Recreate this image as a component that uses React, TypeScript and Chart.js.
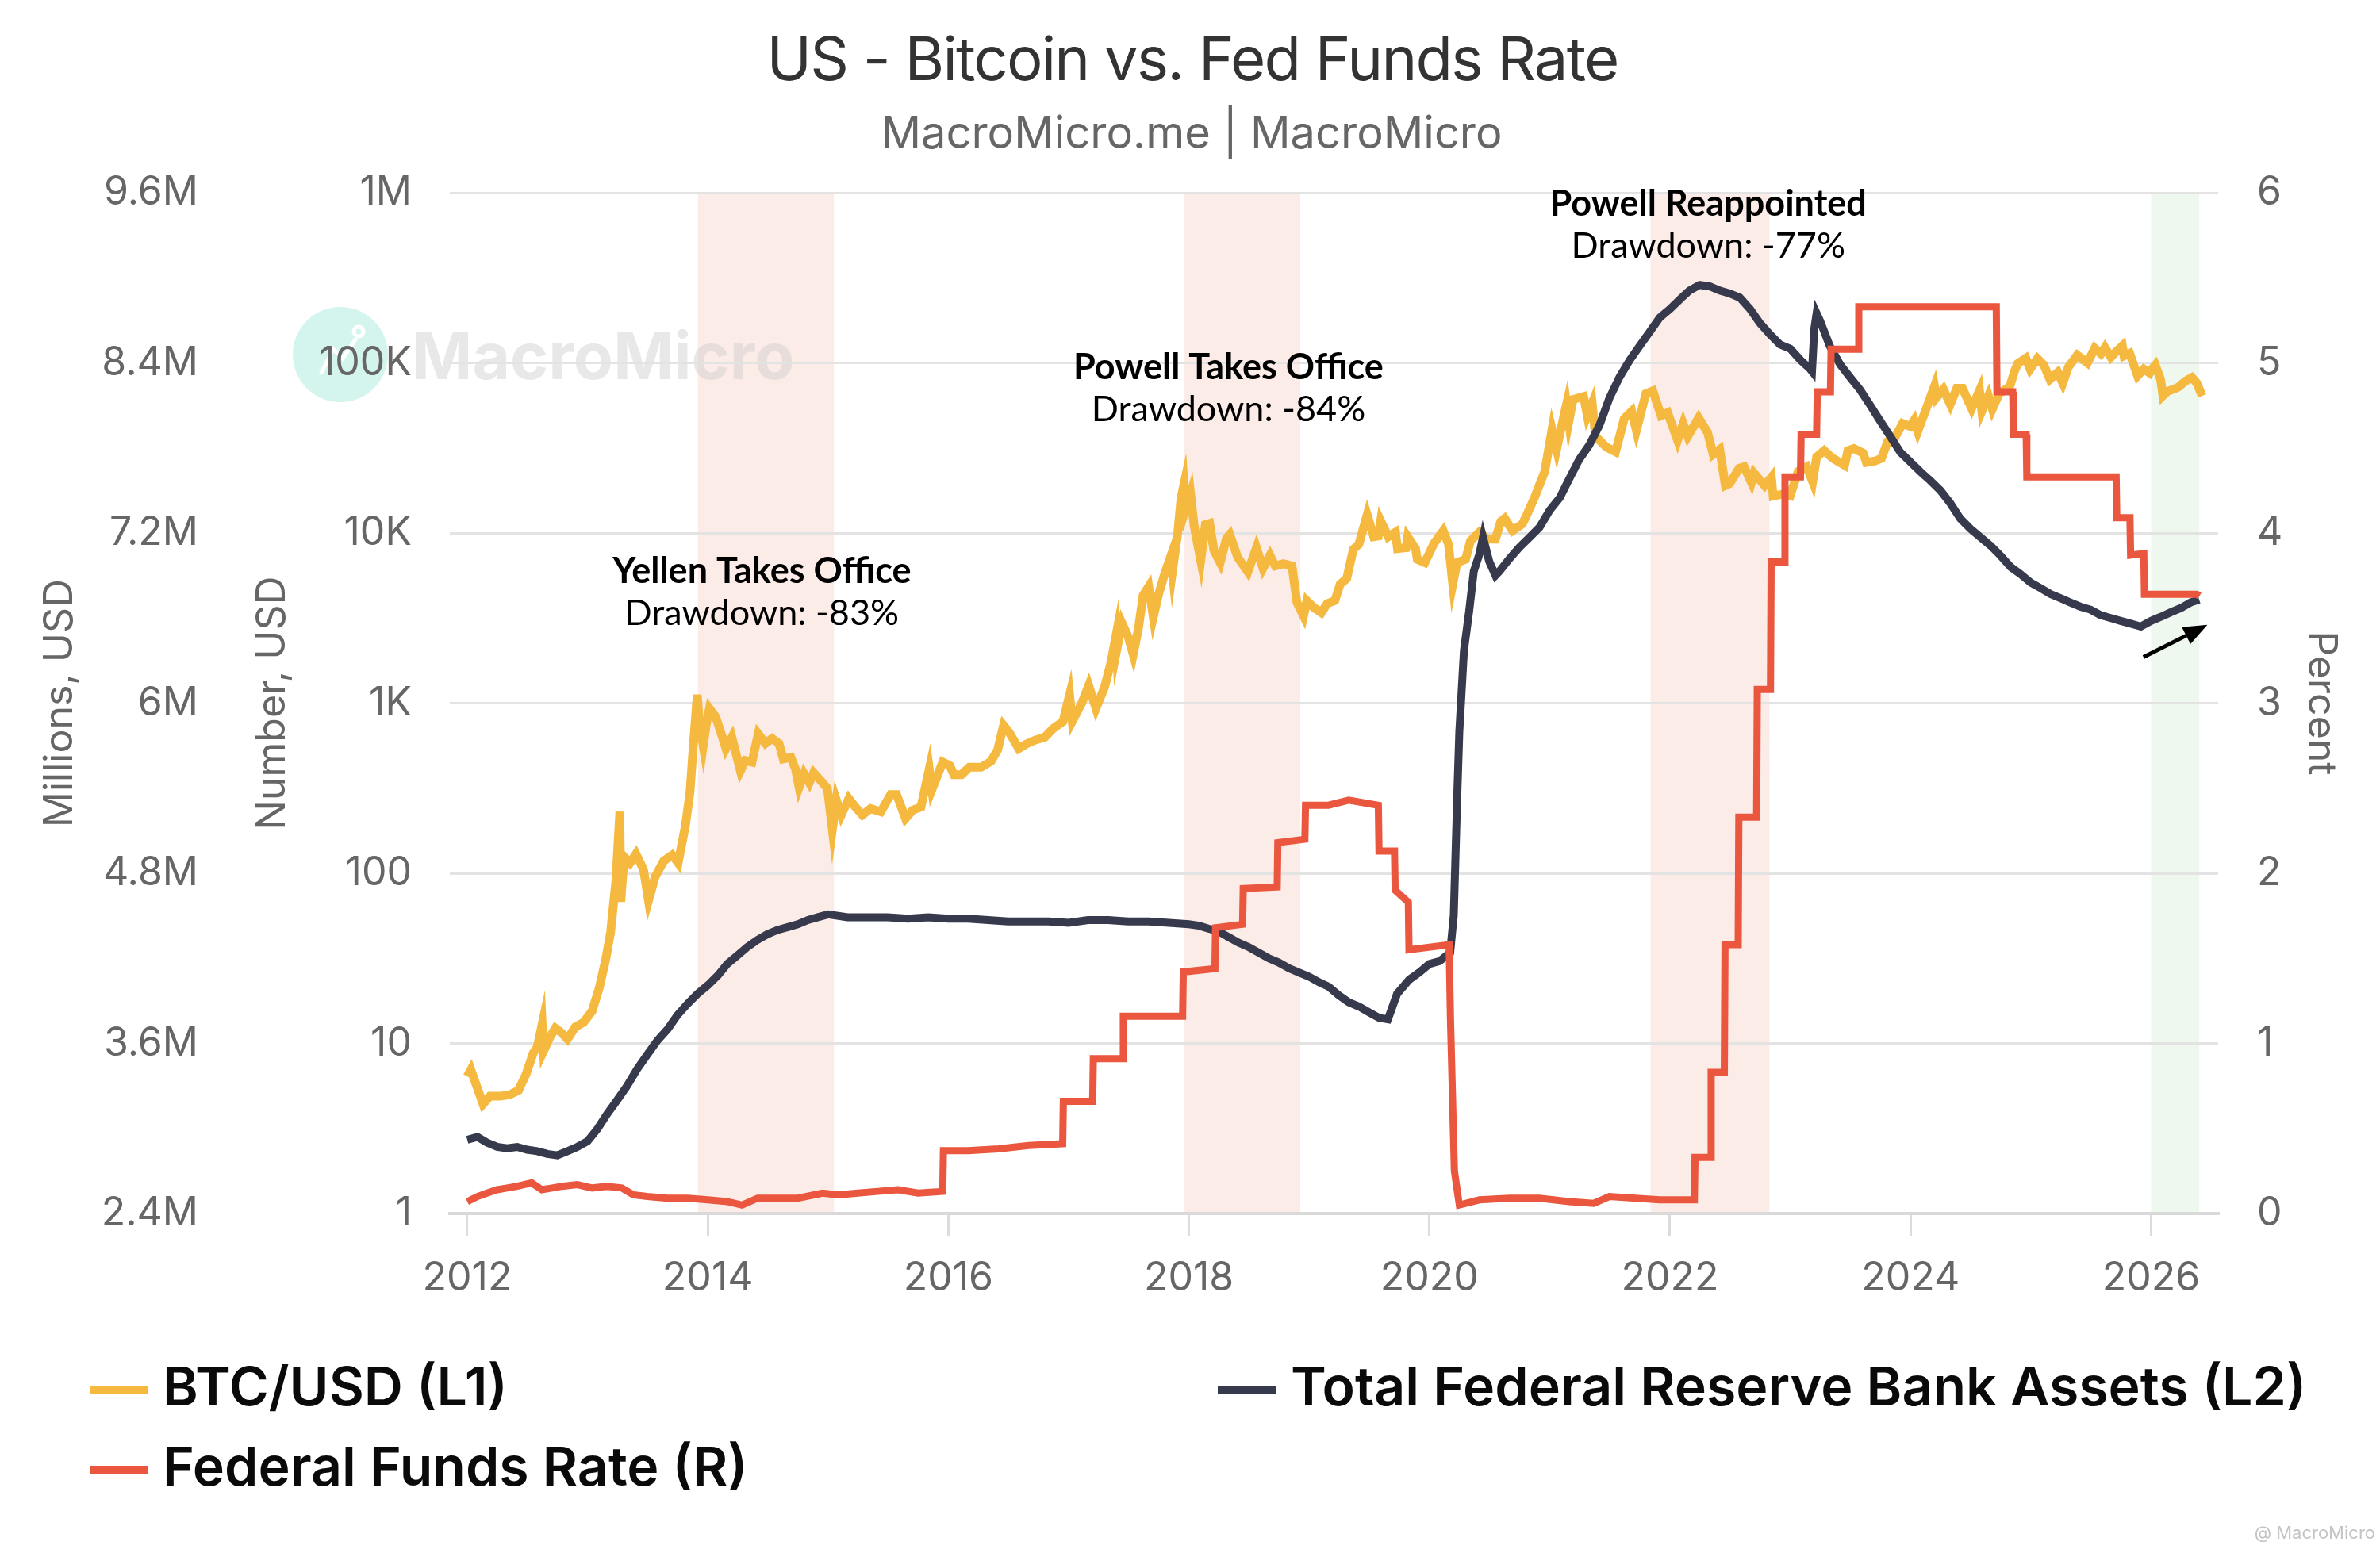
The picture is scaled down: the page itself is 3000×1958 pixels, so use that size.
import React, { useEffect, useRef } from 'react';
import { Chart, registerables } from 'chart.js';

Chart.register(...registerables);

// ---------- text ----------
const TITLE = 'US - Bitcoin vs. Fed Funds Rate';
const SUBTITLE = 'MacroMicro.me | MacroMicro';
const CREDIT = '@ MacroMicro';
const WATERMARK = 'MacroMicro';

// ---------- axes ----------
const X_MIN = 2011.855;
const X_MAX = 2026.558;
const YEAR_TICKS = [2012, 2014, 2016, 2018, 2020, 2022, 2024, 2026];
const BTC_TICKS = [1, 10, 100, 1000, 10000, 100000, 1000000];
const BTC_TICK_LABELS = ['1', '10', '100', '1K', '10K', '100K', '1M'];
const ASSET_TICKS = [2.4, 3.6, 4.8, 6, 7.2, 8.4, 9.6];
const RATE_TICKS = [0, 1, 2, 3, 4, 5, 6];

// ---------- series: BTC/USD (L1) ----------
const BTC_DATES = [
  '2012-01-01','2012-01-12','2012-02-18','2012-03-10','2012-04-12','2012-05-10','2012-06-05','2012-06-28','2012-07-20','2012-08-01','2012-08-16','2012-08-20','2012-09-10','2012-09-25','2012-10-15','2012-11-01','2012-11-25','2012-12-20',
  '2013-01-15','2013-02-05','2013-02-25','2013-03-12','2013-03-28','2013-04-09','2013-04-12','2013-04-22','2013-05-10','2013-05-28','2013-06-20','2013-07-05','2013-07-25','2013-08-20','2013-09-15','2013-10-03','2013-10-25','2013-11-08','2013-11-18','2013-11-30','2013-12-07','2013-12-18','2013-12-27',
  '2014-01-06','2014-01-25','2014-02-12','2014-02-25','2014-03-15','2014-04-10','2014-04-25','2014-05-15','2014-06-03','2014-06-25','2014-07-15','2014-08-05','2014-08-18','2014-09-10','2014-09-24','2014-10-05','2014-10-20','2014-11-05','2014-11-18','2014-12-10','2014-12-30',
  '2015-01-14','2015-01-26','2015-02-10','2015-03-05','2015-03-25','2015-04-15','2015-05-10','2015-06-10','2015-07-10','2015-07-28','2015-08-24','2015-09-15','2015-10-10','2015-11-04','2015-11-12','2015-12-15',
  '2016-01-05','2016-01-18','2016-02-10','2016-03-05','2016-04-10','2016-05-10','2016-05-30','2016-06-17','2016-07-05','2016-08-02','2016-08-25','2016-09-20','2016-10-20','2016-11-15','2016-12-15',
  '2017-01-04','2017-01-12','2017-02-10','2017-03-03','2017-03-25','2017-04-20','2017-05-10','2017-05-25','2017-05-27','2017-06-12','2017-07-01','2017-07-16','2017-08-01','2017-08-15','2017-09-01','2017-09-15','2017-10-01','2017-10-20','2017-11-07','2017-11-12','2017-11-28','2017-12-08','2017-12-17','2017-12-22',
  '2018-01-06','2018-01-17','2018-02-06','2018-02-20','2018-03-05','2018-03-18','2018-04-06','2018-04-25','2018-05-05','2018-05-29','2018-06-29','2018-07-25','2018-08-14','2018-09-04','2018-09-20','2018-10-15','2018-11-10','2018-11-25','2018-12-15','2018-12-25',
  '2019-01-15','2019-02-07','2019-02-25','2019-03-20','2019-04-05','2019-04-25','2019-05-15','2019-06-01','2019-06-26','2019-07-16','2019-07-30','2019-08-06','2019-08-29','2019-09-20','2019-09-26','2019-10-22','2019-10-27','2019-11-20','2019-11-25','2019-12-18',
  '2020-01-15','2020-02-12','2020-02-28','2020-03-12','2020-03-25','2020-04-20','2020-05-05','2020-06-01','2020-06-25','2020-07-20','2020-08-05','2020-08-17','2020-09-10','2020-10-10','2020-10-25','2020-11-15','2020-12-01','2020-12-17',
  '2021-01-08','2021-01-22','2021-02-10','2021-02-21','2021-02-28','2021-03-13','2021-04-14','2021-04-25','2021-05-10','2021-05-20','2021-06-22','2021-07-20','2021-08-15','2021-09-07','2021-09-21','2021-10-20','2021-11-10','2021-12-05','2021-12-25',
  '2022-01-24','2022-02-10','2022-02-24','2022-03-29','2022-04-25','2022-05-12','2022-06-01','2022-06-18','2022-07-01','2022-07-30','2022-08-14','2022-09-05','2022-09-13','2022-10-15','2022-11-05','2022-11-10','2022-12-15',
  '2023-01-01','2023-01-25','2023-02-20','2023-03-10','2023-03-22','2023-04-14','2023-05-10','2023-06-15','2023-06-25','2023-07-13','2023-08-10','2023-08-20','2023-09-15','2023-10-05','2023-10-24','2023-11-15','2023-12-08','2023-12-31',
  '2024-01-12','2024-01-23','2024-02-15','2024-03-14','2024-03-20','2024-04-10','2024-05-01','2024-05-21','2024-06-07','2024-07-05','2024-07-29','2024-08-05','2024-08-25','2024-09-06','2024-09-27','2024-10-29','2024-11-13','2024-11-22','2024-12-17','2024-12-30',
  '2025-01-21','2025-02-10','2025-02-28','2025-03-24','2025-04-08','2025-04-25','2025-05-22','2025-06-22','2025-07-14','2025-08-02','2025-08-14','2025-09-01','2025-09-18','2025-10-06','2025-10-11','2025-10-28','2025-11-21','2025-12-10','2025-12-28',
  '2026-01-06','2026-01-14','2026-01-30','2026-02-06','2026-02-20','2026-03-10','2026-03-25','2026-04-15','2026-05-05','2026-05-20','2026-06-05',
];
const BTC_PRICES = [
  6.4,7.0,4.4,4.9,4.9,5.0,5.3,6.6,8.8,9.5,13.0,9.0,11.0,12.3,11.5,10.6,12.5,13.3,
  15.5,21,31,45,90,230,68,125,115,130,105,69,95,118,128,115,190,300,560,1120,750,560,740,
  930,830,650,540,630,400,460,450,660,580,620,580,470,480,410,320,385,340,390,350,315,
  180,270,220,275,245,220,240,230,290,290,210,235,245,410,310,450,
  430,380,380,420,420,455,530,740,670,540,575,605,630,710,780,
  1120,780,1000,1270,930,1240,1750,2500,2050,2950,2450,1930,2750,4300,4850,3200,4350,5800,7300,5900,9900,16000,19300,13800,
  17100,11000,6900,11200,11400,7900,6700,9300,9800,7200,5900,8200,6200,7400,6400,6600,6400,3900,3250,4000,
  3650,3400,3850,4000,5000,5400,8000,8600,12800,9500,9600,11800,9500,10100,8100,8200,9500,8100,7000,6700,
  8700,10300,8600,5000,6700,7000,9000,10100,9200,9200,11700,12200,10300,11300,13000,16000,19200,23000,
  40500,31000,46000,57000,45000,61000,63500,49000,58000,37000,32000,30000,47000,52000,40000,66000,68500,49000,51000,
  35000,44000,37000,47500,39000,29000,31000,19000,19500,24000,24500,19800,22500,19000,21300,16500,17000,
  16600,23000,24500,20000,28000,30500,27500,25000,30500,31400,29500,26000,26500,27500,34500,36500,44000,42300,
  46000,39500,52000,73000,62500,70000,57000,71000,71000,54000,69000,52000,64000,53500,66000,72500,90000,99000,106500,92000,
  106000,97000,80000,88000,76000,94500,111000,100000,122000,113000,123000,108000,117000,126000,110000,114000,84000,92000,87000,
  93000,97000,80000,64000,68000,70000,72000,78000,82000,76000,64000,
];

// ---------- series: Total Federal Reserve Bank Assets (L2), millions of millions USD ----------
const ASSET_DATES = [
  '2012-01-01','2012-02-01','2012-03-01','2012-04-01','2012-05-01','2012-06-01','2012-07-01','2012-08-01','2012-09-01','2012-10-01','2012-11-01','2012-12-01',
  '2013-01-01','2013-02-01','2013-03-01','2013-04-01','2013-05-01','2013-06-01','2013-07-01','2013-08-01','2013-09-01','2013-10-01','2013-11-01','2013-12-01',
  '2014-01-01','2014-02-01','2014-03-01','2014-04-01','2014-05-01','2014-06-01','2014-07-01','2014-08-01','2014-09-01','2014-10-01','2014-11-01','2014-12-01',
  '2015-01-01','2015-03-01','2015-05-01','2015-07-01','2015-09-01','2015-11-01',
  '2016-01-01','2016-03-01','2016-05-01','2016-07-01','2016-09-01','2016-11-01',
  '2017-01-01','2017-03-01','2017-05-01','2017-07-01','2017-09-01','2017-11-01',
  '2018-01-01','2018-02-01','2018-03-01','2018-04-01','2018-05-01','2018-06-01','2018-07-01','2018-08-01','2018-09-01','2018-10-01','2018-11-01','2018-12-01',
  '2019-01-01','2019-02-01','2019-03-01','2019-04-01','2019-05-01','2019-06-01','2019-07-01','2019-08-01','2019-08-28','2019-09-25','2019-11-01','2019-12-01',
  '2020-01-01','2020-02-01','2020-03-04','2020-03-15','2020-03-25','2020-04-01','2020-04-15','2020-05-01','2020-05-15','2020-06-01','2020-06-12','2020-07-01','2020-07-20','2020-08-01','2020-09-01','2020-10-01','2020-11-01','2020-12-01',
  '2021-01-01','2021-02-01','2021-03-01','2021-04-01','2021-05-01','2021-06-01','2021-07-01','2021-08-01','2021-09-01','2021-10-01','2021-11-01','2021-12-01',
  '2022-01-01','2022-02-01','2022-03-01','2022-04-01','2022-05-01','2022-06-01','2022-07-01','2022-08-01','2022-09-01','2022-10-01','2022-11-01','2022-12-01',
  '2023-01-01','2023-02-01','2023-03-01','2023-03-08','2023-03-15','2023-03-22','2023-04-01','2023-05-01','2023-06-01','2023-07-01','2023-08-01','2023-09-01','2023-10-01','2023-11-01','2023-12-01',
  '2024-01-01','2024-02-01','2024-03-01','2024-04-01','2024-05-01','2024-06-01','2024-07-01','2024-08-01','2024-09-01','2024-10-01','2024-11-01','2024-12-01',
  '2025-01-01','2025-02-01','2025-03-01','2025-04-01','2025-05-01','2025-06-01','2025-07-01','2025-08-01','2025-09-01','2025-10-01','2025-11-01','2025-12-01',
  '2026-01-01','2026-02-01','2026-03-01','2026-04-01','2026-05-01','2026-05-27',
];
const ASSET_VALUES = [
  2.92,2.94,2.90,2.87,2.86,2.87,2.85,2.84,2.82,2.81,2.84,2.87,
  2.91,3.00,3.10,3.20,3.30,3.42,3.52,3.62,3.70,3.80,3.88,3.95,
  4.01,4.08,4.16,4.22,4.28,4.33,4.37,4.40,4.42,4.44,4.47,4.49,
  4.51,4.49,4.49,4.49,4.48,4.49,
  4.48,4.48,4.47,4.46,4.46,4.46,
  4.45,4.47,4.47,4.46,4.46,4.45,
  4.44,4.43,4.41,4.39,4.35,4.31,4.28,4.24,4.20,4.17,4.13,4.10,
  4.07,4.03,4.00,3.94,3.89,3.86,3.82,3.78,3.77,3.95,4.05,4.10,
  4.16,4.18,4.24,4.50,5.30,5.80,6.37,6.65,6.93,7.05,7.17,7.00,6.90,6.93,7.02,7.10,7.17,7.24,
  7.36,7.45,7.58,7.72,7.82,7.96,8.15,8.30,8.42,8.52,8.62,8.72,
  8.78,8.85,8.91,8.95,8.94,8.91,8.89,8.86,8.78,8.68,8.60,8.53,
  8.50,8.42,8.36,8.34,8.64,8.75,8.70,8.52,8.39,8.30,8.21,8.10,7.99,7.88,7.77,
  7.70,7.63,7.57,7.50,7.41,7.30,7.23,7.17,7.11,7.04,6.96,6.91,
  6.85,6.81,6.77,6.74,6.71,6.68,6.66,6.62,6.60,6.58,6.56,6.54,
  6.58,6.61,6.64,6.67,6.71,6.73,
];

// ---------- series: Federal Funds Rate (R), percent ----------
const FFR_DATES = [
  '2012-01-01','2012-02-01','2012-03-01','2012-04-01','2012-05-01','2012-06-01','2012-07-15','2012-08-15','2012-09-15','2012-10-15','2012-12-01',
  '2013-01-15','2013-03-01','2013-04-15','2013-05-20','2013-07-01','2013-09-01','2013-11-01',
  '2014-01-01','2014-03-01','2014-04-15','2014-06-01','2014-08-01','2014-10-01','2014-12-15',
  '2015-02-01','2015-04-01','2015-06-01','2015-08-01','2015-10-01','2015-12-15','2015-12-17',
  '2016-03-01','2016-06-01','2016-09-01','2016-12-14','2016-12-16',
  '2017-03-15','2017-03-17','2017-06-14','2017-06-16','2017-12-13','2017-12-15',
  '2018-03-21','2018-03-23','2018-06-13','2018-06-15','2018-09-26','2018-09-28','2018-12-19','2018-12-21',
  '2019-03-01','2019-05-01','2019-07-30','2019-08-01','2019-09-17','2019-09-19','2019-10-29','2019-10-31',
  '2020-03-01','2020-03-05','2020-03-17','2020-04-01','2020-06-01','2020-09-01','2020-12-01',
  '2021-03-01','2021-05-15','2021-07-01','2021-12-01',
  '2022-03-16','2022-03-18','2022-05-04','2022-05-06','2022-06-15','2022-06-17','2022-07-27','2022-07-29','2022-09-21','2022-09-23','2022-11-02','2022-11-04','2022-12-14','2022-12-16',
  '2023-02-01','2023-02-03','2023-03-22','2023-03-24','2023-05-03','2023-05-05','2023-07-26','2023-07-28',
  '2024-09-18','2024-09-20','2024-11-07','2024-11-09','2024-12-18','2024-12-20',
  '2025-09-17','2025-09-19','2025-10-29','2025-10-31','2025-12-10','2025-12-12',
  '2026-05-20','2026-05-28',
];
const FFR_VALUES = [
  0.07,0.10,0.12,0.14,0.15,0.16,0.18,0.14,0.15,0.16,0.17,
  0.15,0.16,0.15,0.11,0.10,0.09,0.09,
  0.08,0.07,0.05,0.09,0.09,0.09,0.12,
  0.11,0.12,0.13,0.14,0.12,0.13,0.37,
  0.37,0.38,0.40,0.41,0.66,
  0.66,0.91,0.91,1.16,1.16,1.42,
  1.44,1.68,1.70,1.91,1.92,2.18,2.20,2.40,
  2.40,2.43,2.40,2.13,2.13,1.90,1.83,1.55,
  1.58,1.15,0.25,0.05,0.08,0.09,0.09,
  0.07,0.06,0.10,0.08,
  0.08,0.33,0.33,0.83,0.83,1.58,1.58,2.33,2.33,3.08,3.08,3.83,3.83,4.33,
  4.33,4.58,4.58,4.83,4.83,5.08,5.08,5.33,
  5.33,4.83,4.83,4.58,4.58,4.33,
  4.33,4.09,4.09,3.87,3.88,3.64,
  3.64,3.63,
];

// ---------- highlight periods ----------
const BAND_STARTS = ['2013-12-02', '2017-12-17', '2021-11-03', '2026-01-01'];
const BAND_ENDS = ['2015-01-19', '2018-12-05', '2022-10-30', '2026-05-27'];
const BAND_KINDS = ['red', 'red', 'red', 'green'];

// ---------- annotations (anchored on the BTC axis) ----------
const NOTE_TITLES = ['Yellen Takes Office', 'Powell Takes Office', 'Powell Reappointed'];
const NOTE_SUBS = ['Drawdown: -83%', 'Drawdown: -84%', 'Drawdown: -77%'];
const NOTE_DATES = ['2014-06-14', '2018-05-01', '2022-04-27'];
const NOTE_BTC = [5100, 80000, 732000];

// arrow (on the percent axis)
const ARROW_DATES = ['2025-12-09', '2026-06-21'];
const ARROW_RATES = [3.27, 3.46];

// ---------- colors ----------
const C_BTC = '#F5B940';
const C_ASSETS = '#363A4C';
const C_FFR = '#EA573E';
const AXIS_TEXT = '#666666';
const FONT = 'Inter, "Noto Sans", sans-serif';
const NOTE_FONT = 'Lato, "Noto Sans", sans-serif';

const toYear = (d: string): number => {
  const [y, m, day] = d.split('-').map(Number);
  const s = Date.UTC(y, 0, 1);
  const e = Date.UTC(y + 1, 0, 1);
  return y + (Date.UTC(y, m - 1, day) - s) / (e - s);
};

const pts = (dates: string[], vals: number[]) => dates.map((d, i) => ({ x: toYear(d), y: vals[i] }));

const decorPlugin = {
  id: 'decor',
  beforeDraw(chart: any) {
    const { ctx, chartArea: a, scales } = chart;
    ctx.save();
    // shaded periods
    BAND_STARTS.forEach((s, i) => {
      const x0 = scales.x.getPixelForValue(toYear(s));
      const x1 = scales.x.getPixelForValue(toYear(BAND_ENDS[i]));
      ctx.fillStyle = BAND_KINDS[i] === 'red' ? 'rgba(240,140,120,0.17)' : 'rgba(150,210,150,0.16)';
      ctx.fillRect(x0, a.top, x1 - x0, a.bottom - a.top);
    });
    // watermark
    ctx.fillStyle = '#D4F5EE';
    ctx.beginPath();
    ctx.arc(429, 447, 60, 0, Math.PI * 2);
    ctx.fill();
    ctx.strokeStyle = '#ffffff';
    ctx.lineWidth = 5;
    ctx.lineCap = 'round';
    ctx.beginPath();
    ctx.moveTo(405, 470);
    ctx.lineTo(420, 440);
    ctx.lineTo(432, 452);
    ctx.lineTo(448, 428);
    ctx.stroke();
    ctx.beginPath();
    ctx.arc(452, 418, 6, 0, Math.PI * 2);
    ctx.stroke();
    ctx.fillStyle = 'rgba(205,205,205,0.45)';
    ctx.font = `700 82px ${FONT}`;
    ctx.textAlign = 'left';
    ctx.textBaseline = 'alphabetic';
    ctx.fillText(WATERMARK, 519, 478);
    // title + subtitle
    ctx.textAlign = 'center';
    ctx.fillStyle = '#333333';
    ctx.font = `400 76px ${FONT}`;
    (ctx as any).letterSpacing = '-1.8px';
    ctx.fillText(TITLE, 1503, 101);
    (ctx as any).letterSpacing = '0px';
    ctx.fillStyle = '#666666';
    ctx.font = `400 56px ${FONT}`;
    ctx.fillText(SUBTITLE, 1502, 187);
    ctx.restore();
  },
  afterDatasetsDraw(chart: any) {
    const { ctx, scales } = chart;
    ctx.save();
    ctx.fillStyle = '#000000';
    ctx.textAlign = 'center';
    ctx.textBaseline = 'alphabetic';
    NOTE_TITLES.forEach((t, i) => {
      const x = scales.x.getPixelForValue(toYear(NOTE_DATES[i]));
      const y = scales.yBtc.getPixelForValue(NOTE_BTC[i]);
      ctx.font = `700 45px ${NOTE_FONT}`;
      ctx.fillText(t, x, y);
      ctx.font = `400 45px ${NOTE_FONT}`;
      ctx.fillText(NOTE_SUBS[i], x, y + 53);
    });
    // arrow
    const x0 = scales.x.getPixelForValue(toYear(ARROW_DATES[0]));
    const y0 = scales.yRate.getPixelForValue(ARROW_RATES[0]);
    const x1 = scales.x.getPixelForValue(toYear(ARROW_DATES[1]));
    const y1 = scales.yRate.getPixelForValue(ARROW_RATES[1]);
    const ang = Math.atan2(y1 - y0, x1 - x0);
    const hl = 30;
    const hw = 12;
    const bx = x1 - hl * Math.cos(ang);
    const by = y1 - hl * Math.sin(ang);
    ctx.strokeStyle = '#000000';
    ctx.lineWidth = 5;
    ctx.beginPath();
    ctx.moveTo(x0, y0);
    ctx.lineTo(bx, by);
    ctx.stroke();
    ctx.beginPath();
    ctx.moveTo(x1, y1);
    ctx.lineTo(bx + hw * Math.sin(ang), by - hw * Math.cos(ang));
    ctx.lineTo(bx - hw * Math.sin(ang), by + hw * Math.cos(ang));
    ctx.closePath();
    ctx.fill();
    ctx.restore();
  },
  afterDraw(chart: any) {
    const { ctx } = chart;
    const ds = chart.data.datasets;
    const byLabel = (l: string) => ds.find((d: any) => d.label === l);
    const items = [
      { ds: byLabel('BTC/USD (L1)'), x: 113, y: 1772 },
      { ds: byLabel('Total Federal Reserve Bank Assets (L2)'), x: 1535, y: 1772 },
      { ds: byLabel('Federal Funds Rate (R)'), x: 113, y: 1873 },
    ];
    ctx.save();
    ctx.textAlign = 'left';
    ctx.textBaseline = 'alphabetic';
    ctx.font = `600 68px ${FONT}`;
    items.forEach((it) => {
      ctx.fillStyle = it.ds.borderColor;
      ctx.fillRect(it.x, it.y - 25, 74, 10);
      ctx.fillStyle = '#0a0a0a';
      ctx.fillText(it.ds.label, it.x + 92, it.y);
    });
    ctx.font = `400 22px ${FONT}`;
    ctx.fillStyle = '#c4c4c4';
    ctx.textAlign = 'right';
    ctx.fillText(CREDIT, 2994, 1940);
    ctx.restore();
  },
};

export default function App() {
  const ref = useRef<HTMLCanvasElement | null>(null);
  useEffect(() => {
    document.body.style.margin = '0';
    const canvas = ref.current;
    if (!canvas) return;
    const tickFont = { family: FONT, size: 50 };
    const titleFont = { family: FONT, size: 50 };
    const chart = new Chart(canvas, {
      type: 'line',
      data: {
        datasets: [
          {
            label: 'Federal Funds Rate (R)',
            data: pts(FFR_DATES, FFR_VALUES),
            yAxisID: 'yRate',
            borderColor: C_FFR,
            backgroundColor: C_FFR,
            borderWidth: 9,
            pointRadius: 0,
            tension: 0,
            order: 0,
          },
          {
            label: 'Total Federal Reserve Bank Assets (L2)',
            data: pts(ASSET_DATES, ASSET_VALUES),
            yAxisID: 'yAssets',
            borderColor: C_ASSETS,
            backgroundColor: C_ASSETS,
            borderWidth: 10,
            pointRadius: 0,
            tension: 0,
            order: 1,
          },
          {
            label: 'BTC/USD (L1)',
            data: pts(BTC_DATES, BTC_PRICES),
            yAxisID: 'yBtc',
            borderColor: C_BTC,
            backgroundColor: C_BTC,
            borderWidth: 11,
            pointRadius: 0,
            tension: 0,
            order: 2,
          },
        ],
      },
      options: {
        animation: false,
        responsive: false,
        devicePixelRatio: 1,
        events: [],
        layout: { padding: { left: 0, right: 0, top: 243, bottom: 308 } },
        plugins: {
          legend: { display: false },
          tooltip: { enabled: false },
          title: { display: false },
        },
        scales: {
          x: {
            type: 'linear',
            position: 'bottom',
            min: X_MIN,
            max: X_MAX,
            afterBuildTicks: (s: any) => {
              s.ticks = YEAR_TICKS.map((v) => ({ value: v }));
            },
            afterFit: (s: any) => {
              s.height = 120;
            },
            ticks: {
              font: tickFont,
              color: AXIS_TEXT,
              padding: 24,
              maxRotation: 0,
              autoSkip: false,
              callback: (v: any) => String(v),
            },
            grid: { drawOnChartArea: false, drawTicks: true, tickLength: 28, color: '#dcdcdc', lineWidth: 3 },
            border: { display: true, color: '#d9d9d9', width: 4 },
          },
          yAssets: {
            type: 'linear',
            position: 'left',
            weight: 2,
            min: 2.4,
            max: 9.6,
            afterBuildTicks: (s: any) => {
              s.ticks = ASSET_TICKS.map((v) => ({ value: v }));
            },
            afterFit: (s: any) => {
              s.width = 270;
            },
            ticks: {
              font: tickFont,
              color: AXIS_TEXT,
              padding: 20,
              callback: (v: any) => `${+Number(v).toFixed(1)}M`,
            },
            grid: { display: false, drawTicks: false },
            border: { display: false },
            title: { display: true, text: 'Millions, USD', font: titleFont, color: AXIS_TEXT, padding: { top: 46, bottom: 0 } },
          },
          yBtc: {
            type: 'logarithmic',
            position: 'left',
            weight: 1,
            min: 1,
            max: 1000000,
            afterBuildTicks: (s: any) => {
              s.ticks = BTC_TICKS.map((v) => ({ value: v }));
            },
            afterFit: (s: any) => {
              s.width = 297;
            },
            ticks: {
              font: tickFont,
              color: AXIS_TEXT,
              padding: 48,
              callback: (v: any) => BTC_TICK_LABELS[BTC_TICKS.indexOf(Number(v))] ?? '',
            },
            grid: { display: false, drawTicks: false },
            border: { display: false },
            title: { display: true, text: 'Number, USD', font: titleFont, color: AXIS_TEXT, padding: { top: 44, bottom: 0 } },
          },
          yRate: {
            type: 'linear',
            position: 'right',
            min: 0,
            max: 6,
            afterBuildTicks: (s: any) => {
              s.ticks = RATE_TICKS.map((v) => ({ value: v }));
            },
            afterFit: (s: any) => {
              s.width = 204;
            },
            ticks: {
              font: tickFont,
              color: AXIS_TEXT,
              padding: 49,
              callback: (v: any) => String(v),
            },
            grid: { display: true, drawTicks: false, color: '#e3e3e3', lineWidth: 3 },
            border: { display: false },
            title: { display: true, text: 'Percent', font: titleFont, color: AXIS_TEXT, padding: { top: 45, bottom: 0 } },
          },
        },
      },
      plugins: [decorPlugin],
    } as any);
    return () => chart.destroy();
  }, []);
  return (
    <div style={{ position: 'absolute', left: 0, top: 0, width: 3000, height: 1958, background: '#fff' }}>
      <canvas ref={ref} width={3000} height={1958} style={{ width: 3000, height: 1958, display: 'block' }} />
    </div>
  );
}
